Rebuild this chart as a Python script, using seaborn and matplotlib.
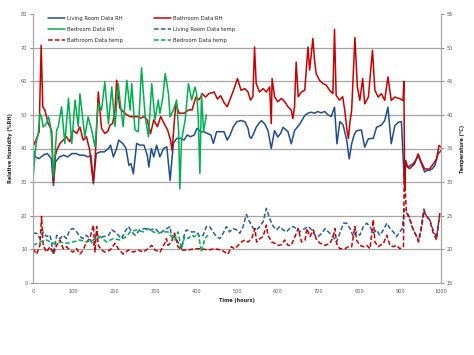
import matplotlib
matplotlib.use("Agg")
import matplotlib.pyplot as plt
import seaborn as sns

# ---- data ----
# Living Room RH (solid blue)
lr_rh_hours = [0, 5, 15, 25, 35, 45, 50, 55, 65, 75, 85, 95, 105, 115, 125, 135, 142, 148, 155, 165,
               175, 185, 190, 197, 205, 210, 220, 228, 235, 240, 246, 254, 262, 272, 280, 284, 290, 296,
               303, 311, 320, 328, 336, 344, 352, 362, 370, 378, 386, 395, 402, 411, 419, 427, 436, 442,
               450, 458, 468, 476, 483, 491, 500, 510, 519, 527, 531, 535, 541, 547, 554, 560, 568, 576,
               584, 592, 600, 607, 613, 625, 633, 641, 654, 666, 674, 682, 690, 698, 706, 715, 723, 731,
               739, 745, 752, 760, 769, 775, 781, 787, 793, 805, 813, 822, 834, 842, 854, 862, 870, 878,
               887, 895, 903, 910, 913, 919, 925, 931, 938, 944, 952, 960, 966, 972, 979, 985, 993, 1000]
lr_rh = [40, 37.5, 37, 38, 38.5, 37, 29, 36, 37.5, 38, 37.5, 38.5, 38.5, 38, 38, 37.5, 38, 29.5, 38.5, 39,
         39, 40, 41, 37.5, 40, 42.5, 41.5, 40, 35, 35.5, 32.5, 41.5, 41, 41, 38, 34.5, 40, 37.5,
         41, 37.5, 40, 40.5, 30.5, 41.5, 43, 43, 42.5, 44, 43.5, 44, 46, 45, 45, 44.5, 44, 41.5,
         45, 45, 45, 42.5, 44, 46.5, 48, 48.3, 48, 46, 43.5, 43, 44.5, 46.3, 47.5, 48.3, 47.3, 45.3,
         40, 45.3, 43.4, 44.5, 46.3, 45, 41.4, 45.3, 47.3, 49.8, 50.5, 50.8, 50.5, 51, 50.6, 51, 50, 49.5,
         52.3, 41.4, 48, 47, 42.4, 36.9, 41.4, 44, 45.3, 45.5, 40.4, 42.9, 43, 46.3, 47, 48.3, 52.3, 41.4,
         46.8, 47.8, 48, 30, 36.4, 34.4, 35, 35.4, 36.5, 37.9, 35.5, 33, 33.5, 33.5, 34, 35, 38.4, 39.4]

# Bathroom RH (solid red)
bath_rh_hours = [0, 9, 15, 20, 24, 29, 37, 42, 46, 50, 55, 58, 66, 74, 82, 90, 98, 107, 115, 123, 131,
                 139, 144, 148, 153, 160, 168, 176, 183, 189, 195, 201, 205, 213, 221, 230, 238, 246,
                 256, 264, 272, 280, 288, 296, 305, 313, 321, 330, 337, 341, 346, 350, 358, 370, 382,
                 390, 399, 407, 415, 423, 431, 444, 452, 460, 468, 476, 485, 493, 501, 510, 519, 527,
                 533, 539, 543, 547, 555, 564, 572, 580, 584, 586, 592, 600, 609, 617, 625, 633, 637,
                 641, 645, 650, 658, 666, 674, 678, 686, 690, 694, 702, 711, 719, 727, 735, 739, 743,
                 751, 759, 764, 769, 773, 777, 781, 789, 795, 801, 808, 813, 822, 832, 838, 846, 854,
                 862, 870, 878, 887, 899, 907, 909, 911, 913, 915, 923, 935, 944, 952, 960, 972, 981,
                 989, 995, 1000]
bath_rh = [40.5, 43, 45, 70.7, 52.4, 51.5, 47.5, 46.4, 45, 30, 38, 39.5, 41.5, 42.5, 43.5, 42, 45.4, 44.5,
           46.4, 42.5, 43.5, 39.5, 33.6, 30, 38.5, 56.8, 46, 44.5, 45, 47, 47.4, 51.4, 60.3, 52, 51, 50,
           49.5, 49.4, 49.5, 49, 49.5, 48.5, 44.4, 48.5, 46.5, 49.5, 47.5, 45.5, 42.5, 39.4, 47.5, 53.3,
           50.5, 50.5, 51.5, 51.5, 55.3, 54.5, 56.3, 55.3, 56.3, 56.8, 54.7, 55.7, 53.7, 52.4, 55.3, 57.8,
           60.8, 57.3, 57.8, 56.8, 54.4, 55.4, 70.2, 59.3, 56.8, 57.8, 56.8, 58.3, 47.4, 60.8, 55.4, 53.9,
           54.9, 53.9, 52.4, 51.4, 48.9, 52.4, 65.7, 55.4, 56.8, 57.3, 70.2, 63.3, 72.7, 66.3, 62.3, 60.3,
           59.3, 58.8, 57.3, 56.3, 75.4, 55.8, 54.4, 55.4, 51.4, 46, 43, 48, 51.3, 73, 58.3, 54.3, 60.8,
           53.3, 55.3, 69.2, 57.3, 55.3, 56.3, 54.3, 61.3, 54.3, 55.3, 54.8, 54.3, 60, 27.5, 36.4, 34.9,
           34, 35.4, 38.4, 35.9, 33.9, 33.9, 35.4, 36.9, 40.9, 40.4]

# Bedroom RH (solid green)
bed_rh_hours = [0, 5, 9, 13, 17, 21, 25, 33, 38, 42, 46, 50, 58, 62, 70, 78, 87, 95, 103, 111, 115, 127,
                135, 144, 152, 160, 168, 176, 185, 193, 201, 209, 213, 221, 230, 238, 242, 250, 258, 266,
                275, 283, 291, 299, 307, 311, 318, 324, 332, 336, 344, 352, 357, 360, 364, 373, 381, 389,
                397, 401, 405, 409, 413, 418, 425]
bed_rh = [30.6, 38.5, 42.5, 44.5, 50.4, 49.4, 46.4, 47.4, 49.4, 47.4, 42.5, 31.6, 45.5, 46.5, 52.4, 41.5,
          54.9, 41.5, 54.4, 46.5, 56.3, 43.5, 49.4, 45.4, 40.5, 53.4, 51.4, 59.8, 47.4, 58.3, 46.5, 59.3,
          54.4, 46.5, 60.3, 51.4, 59.3, 45.5, 45, 64, 49.4, 43.5, 59.3, 48.5, 54.4, 50.4, 55, 62.3, 56.3,
          49.4, 51.4, 54.4, 45, 28, 42.5, 48.5, 59.3, 54.4, 58.3, 56.3, 49.4, 32.6, 56.3, 45, 50]

# Living Room temp (dashed blue)
lr_t_hours = [0, 9, 17, 25, 33, 42, 50, 58, 66, 74, 82, 90, 98, 107, 115, 123, 131, 139, 148, 156, 164,
              172, 185, 193, 201, 209, 217, 225, 234, 242, 250, 262, 274, 287, 299, 311, 323, 336, 339,
              347, 355, 364, 370, 376, 388, 400, 409, 417, 425, 433, 441, 450, 458, 466, 474, 482, 490,
              499, 507, 515, 523, 531, 540, 548, 556, 564, 572, 580, 589, 597, 605, 613, 621, 629, 637,
              646, 654, 666, 675, 683, 691, 699, 708, 716, 724, 732, 744, 752, 761, 769, 777, 785, 793,
              801, 810, 818, 826, 834, 842, 850, 859, 867, 875, 883, 891, 899, 905, 910, 915, 923, 931,
              940, 945, 952, 958, 964, 972, 980, 989, 997]
lr_t = [22.4, 22.4, 21.6, 22.6, 21.9, 22.1, 19.3, 22.1, 21.6, 22.1, 21.6, 22.9, 23.1, 22.6, 21.9, 21.6,
        22.1, 21.6, 20.6, 22.4, 21.6, 21.9, 22.1, 22.9, 22.6, 22.1, 21.6, 22.6, 23.4, 22.6, 22.1, 22.9,
        23.1, 22.9, 23.1, 22.4, 22.9, 23.4, 22.1, 21.9, 21.1, 20.1, 22, 22.9, 22.6, 22.6, 21.9, 22.1, 23.4,
        23.4, 22.6, 21.9, 21.6, 22.4, 23.4, 22.6, 23.1, 22.9, 22.4, 23.4, 25.2, 24.1, 23.1, 22.9, 23.4,
        24.1, 26.1, 24.6, 23.4, 22.9, 23.4, 22.9, 22.6, 23.1, 23.4, 23.1, 22.6, 23.1, 23.4, 22.9, 22.1,
        21.9, 22.4, 23.1, 22.6, 22.1, 21.1, 22.4, 23.9, 23.9, 23.1, 21.9, 22.6, 22.1, 23.4, 23.9, 23.4,
        22.4, 22.9, 22.1, 22.9, 23.9, 23.1, 22.6, 21.9, 22.6, 23.1, 26, 25.5, 24.5, 23, 22, 21.3, 23.5,
        26, 25, 24.5, 23, 21.8, 25.2]

# Bathroom temp (dashed red)
bath_t_hours = [0, 9, 17, 21, 25, 33, 42, 50, 58, 66, 74, 82, 90, 98, 107, 115, 123, 131, 139, 148, 152,
                156, 160, 168, 176, 189, 201, 209, 221, 234, 246, 258, 270, 282, 291, 299, 311, 323, 327,
                331, 339, 347, 355, 364, 380, 396, 413, 429, 445, 462, 478, 486, 494, 503, 511, 519, 527,
                536, 544, 548, 556, 564, 572, 576, 585, 593, 601, 609, 617, 625, 633, 642, 650, 658, 667,
                671, 679, 687, 695, 704, 716, 728, 736, 740, 744, 752, 765, 773, 781, 789, 793, 801, 810,
                818, 826, 834, 838, 846, 859, 867, 875, 883, 891, 899, 908, 910, 915, 923, 931, 940, 945,
                952, 958, 964, 972, 980, 989, 997]
bath_t = [20.1, 19.3, 20.6, 24.9, 20.6, 19.6, 20.4, 19.3, 20.6, 21.4, 20.1, 20.4, 19.9, 19.6, 20.1, 19.3,
          19.9, 21.1, 21.6, 23.6, 19.6, 23.4, 20.6, 19.9, 19.6, 19.9, 20.9, 20.1, 19.3, 19.9, 19.6, 19.9,
          19.6, 20.1, 20.6, 19.9, 19.6, 20.9, 21.6, 20.6, 21.1, 22.4, 20.4, 19.9, 19.9, 20.1, 20.1, 19.9,
          20.1, 19.9, 19.3, 20.4, 20.1, 20.6, 21.1, 21.4, 21.1, 21.6, 23.1, 21.1, 21.6, 21.9, 23.6, 22.1,
          21.1, 20.9, 20.6, 20.7, 21.4, 20.6, 20.6, 21.9, 23.1, 21.1, 21.4, 23.1, 21.9, 22.9, 21.4, 20.9,
          20.6, 20.9, 21.9, 23.1, 20.9, 20.1, 20.1, 20.4, 20.4, 23.4, 21.4, 20.6, 20.4, 20.6, 20.1, 24.4,
          21.1, 20.4, 20.9, 22.1, 20.6, 20.4, 20.6, 20.1, 20.4, 31.5, 25.7, 24.7, 23.1, 21.9, 21.1, 23.1,
          25.7, 24.9, 24.4, 22.6, 21.4, 25.4]

# Bedroom temp (dashed green)
bed_t_hours = [0, 17, 33, 50, 66, 82, 98, 115, 131, 148, 164, 180, 197, 213, 229, 238, 254, 270, 282, 295,
               307, 319, 331, 339, 347, 355, 364, 372, 380, 388, 396, 405, 413, 421, 429]
bed_t = [20.6, 21.1, 21.4, 20.9, 21.1, 20.9, 21.1, 21.4, 21.1, 21.4, 21.9, 21.1, 21.6, 21.4, 21.9, 22.6,
         22.9, 22.6, 23.1, 22.6, 22.4, 22.6, 22.6, 21.9, 21.4, 22.6, 20.1, 21.9, 21.6, 22.1, 21.9, 22.4,
         19.6, 21.6, 22.1]

rh_ticks = [0, 10, 20, 30, 40, 50, 60, 70, 80]
t_ticks = [15, 20, 25, 30, 35, 40, 45, 50, 55]
hour_ticks = [0, 100, 200, 300, 400, 500, 600, 700, 800, 900, 1000]

BLUE = "#1f4e8c"
RED = "#cc0000"
GREEN = "#00b050"
DASH = (0, (3, 1.5))

sns.set_style("white")
plt.rcParams["font.family"] = ["DejaVu Sans"]

fig = plt.figure(figsize=(4.74, 3.55), dpi=100)
ax = fig.add_axes([33 / 474, 1 - 283 / 355, 408 / 474, 269 / 355])
ax2 = ax.twinx()

sns.lineplot(x=lr_rh_hours, y=lr_rh, ax=ax, color=BLUE, lw=1.1, label="Living Room Data RH")
sns.lineplot(x=bath_rh_hours, y=bath_rh, ax=ax, color=RED, lw=1.1, label="Bathroom Data RH")
sns.lineplot(x=bed_rh_hours, y=bed_rh, ax=ax, color=GREEN, lw=1.1, label="Bedroom Data RH")

sns.lineplot(x=lr_t_hours, y=lr_t, ax=ax2, color="#2b5d9a", lw=1.1, linestyle=DASH,
             label="Living Room Data temp")
sns.lineplot(x=bath_t_hours, y=bath_t, ax=ax2, color=RED, lw=1.1, linestyle=DASH,
             label="Bathroom Data temp")
sns.lineplot(x=bed_t_hours, y=bed_t, ax=ax2, color=GREEN, lw=1.1, linestyle=DASH,
             label="Bedroom Data temp")

ax.set_xlim(0, 1000)
ax.set_ylim(0, 80)
ax2.set_ylim(15, 55)
ax.set_xticks(hour_ticks)
ax.set_yticks(rh_ticks)
ax2.set_yticks(t_ticks)

ax.yaxis.grid(True, color="#a6a6a6", lw=0.9)
ax.get_ygridlines()[-1].set_visible(False)
ax.get_ygridlines()[0].set_visible(False)

for a in (ax, ax2):
    a.spines["top"].set_visible(False)
    for side in ("left", "right", "bottom"):
        a.spines[side].set_color("#a6a6a6")
        a.spines[side].set_linewidth(0.8)
    a.tick_params(labelsize=3.6, colors="#595959", length=2, width=0.5, pad=2)

ax.set_xlabel("Time (hours)", fontsize=3.6, fontweight="bold", labelpad=3)
ax.set_ylabel("Relative Humidity (%RH)", fontsize=3.6, fontweight="bold", labelpad=6)
ax2.set_ylabel("Temperature (°C)", fontsize=3.6, fontweight="bold", labelpad=5)

h1, l1 = ax.get_legend_handles_labels()
h2, l2 = ax2.get_legend_handles_labels()
ax.get_legend().remove()
order = [(h1[0], l1[0]), (h1[2], l1[2]), (h2[1], l2[1]),
         (h1[1], l1[1]), (h2[0], l2[0]), (h2[2], l2[2])]
ax2.legend([o[0] for o in order], [o[1] for o in order], ncol=2, frameon=False,
           fontsize=3.8, loc="upper left", bbox_to_anchor=(0.025, 1.01),
           handlelength=3.2, columnspacing=5.8, labelspacing=1.15, handletextpad=0.5)

fig.savefig("out.png", dpi=100)
